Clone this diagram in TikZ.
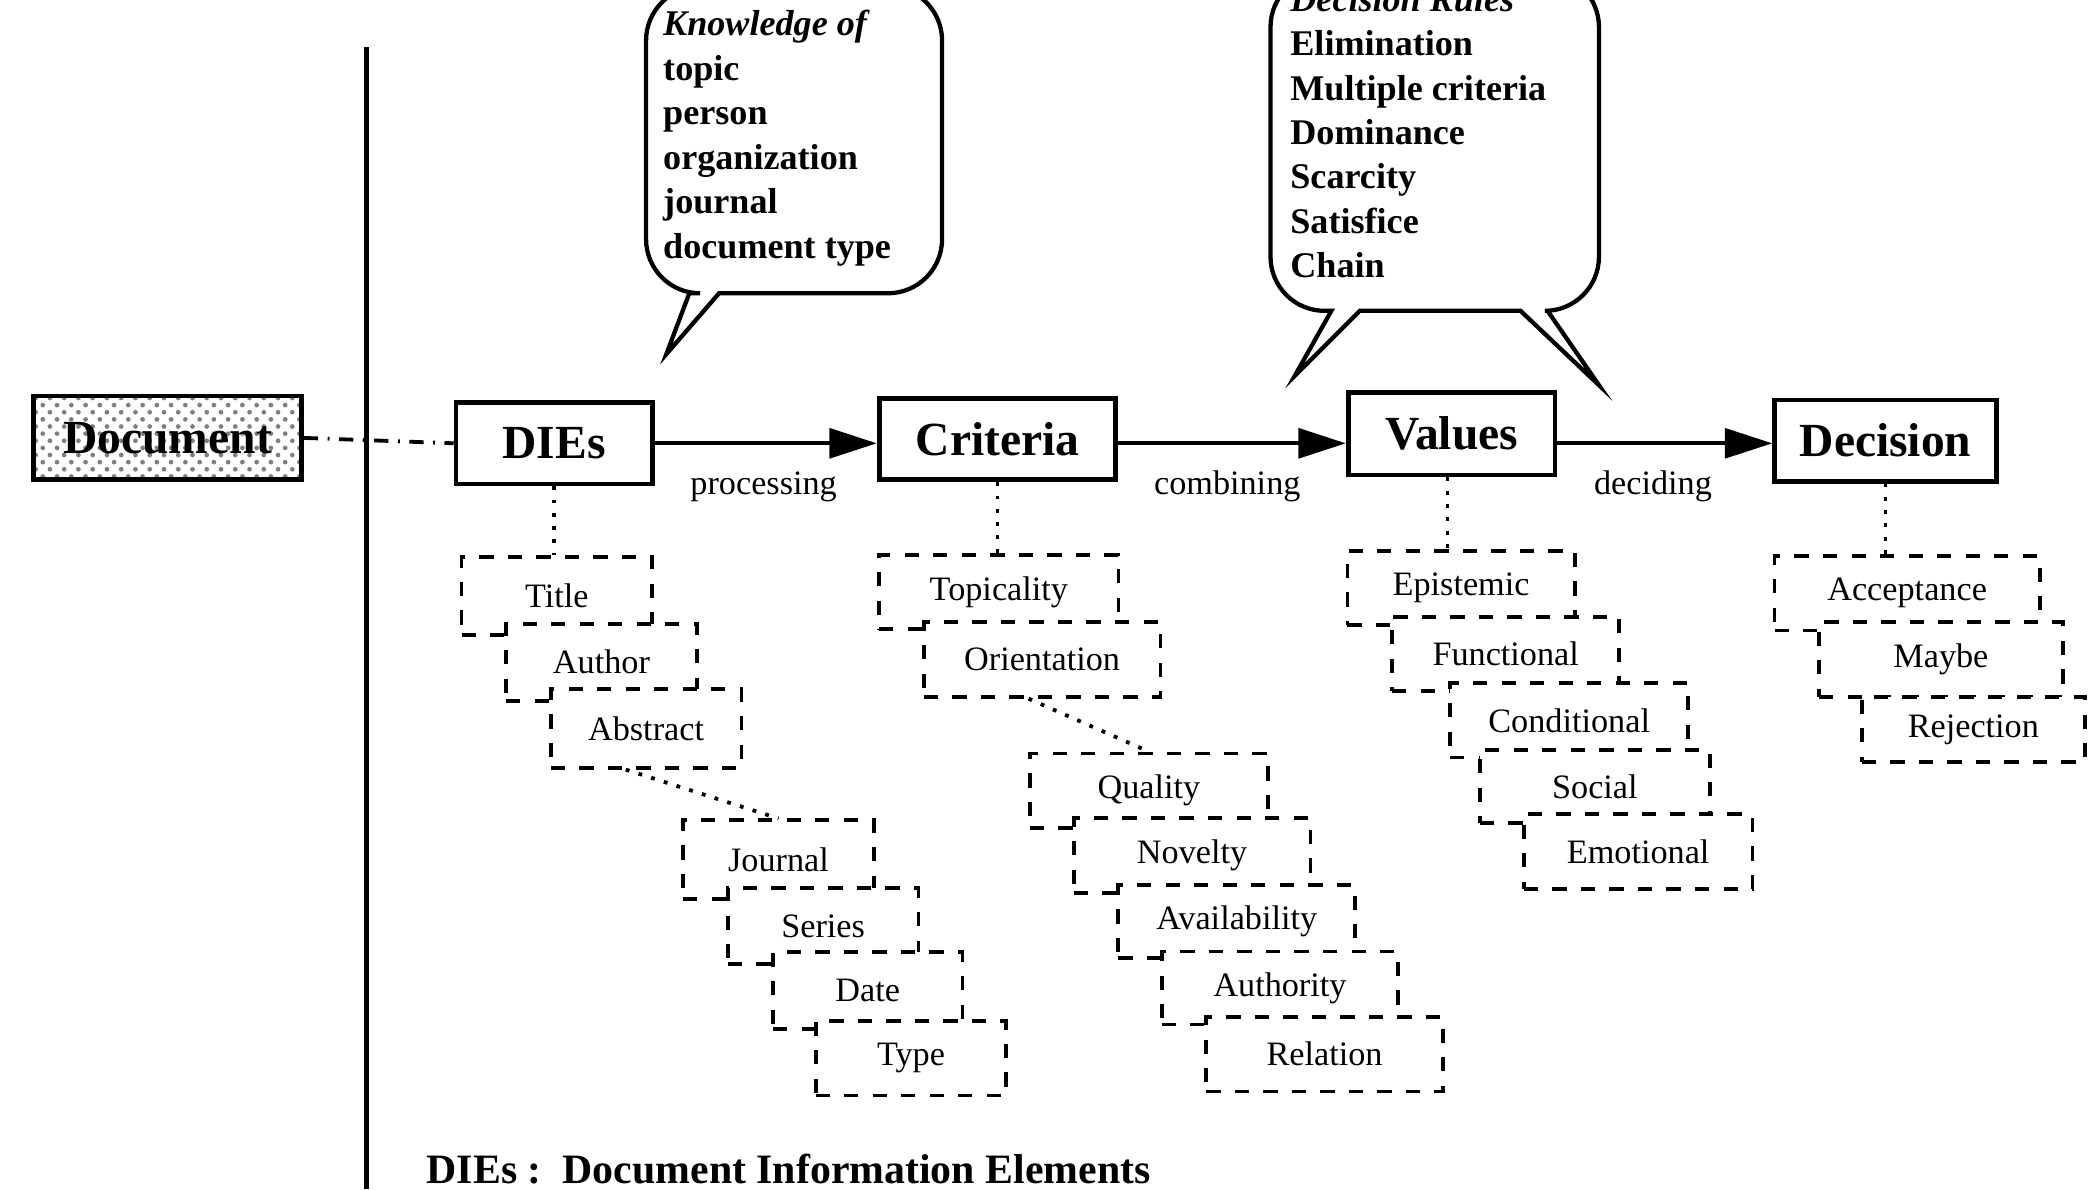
\documentclass[tikz,border=0pt]{standalone}
\usepackage{fontspec}
\setmainfont{Liberation Serif}
\usetikzlibrary{arrows.meta,patterns}

\tikzset{
  mainbox/.style={draw,line width=1pt,inner sep=0pt,font=\fontsize{10}{12}\selectfont\bfseries},
  subbox/.style={draw,dashed,line width=0.8pt,fill=white,inner sep=0pt,font=\fontsize{7.2}{9}\selectfont},
  flow/.style={-{Triangle[length=3.5mm,width=2.2mm]},line width=0.8pt},
  link/.style={dotted,line width=0.8pt},
  lbl/.style={font=\fontsize{7.2}{9}\selectfont},
  bubble/.style={line width=0.9pt}
}

\begin{document}
\begin{tikzpicture}[x=0.01cm,y=-0.01cm]
\useasboundingbox (0,0) rectangle (1550,880);

% separator
\draw[line width=1pt] (271,35) -- (271,880);

% main chain
\node[mainbox,minimum width=1.98cm,minimum height=0.62cm,pattern=crosshatch dots,pattern color=gray] (doc) at (124,324) {};
\node[font=\fontsize{10}{12}\selectfont\bfseries] (doctext) at (124,324) {Document};
\node[mainbox,minimum width=1.45cm,minimum height=0.60cm] (dies) at (410,328) {DIEs};
\node[mainbox,minimum width=1.75cm,minimum height=0.60cm] (crit) at (738,325) {Criteria};
\node[mainbox,minimum width=1.53cm,minimum height=0.61cm] (vals) at (1074,321) {Values};
\node[mainbox,minimum width=1.64cm,minimum height=0.60cm] (deci) at (1395,326) {Decision};

\draw[dash dot,line width=0.8pt] (doc.east) -- (dies.west);
\draw[flow] (dies.east) -- (crit.west |- dies.east);
\draw[flow] (crit.east |- dies.east) -- (vals.west |- dies.east);
\draw[flow] (vals.east |- dies.east) -- (deci.west |- dies.east);
\node[lbl] (lproc) at (565,360) {processing};
\node[lbl] (lcomb) at (908,360) {combining};
\node[lbl] (ldeci) at (1223,360) {deciding};

% DIEs elements
\node[subbox,minimum width=1.41cm,minimum height=0.58cm] (title) at (412,441) {Title};
\node[subbox,minimum width=1.41cm,minimum height=0.57cm] (author) at (445,490) {Author};
\node[subbox,minimum width=1.41cm,minimum height=0.58cm] (abstract) at (478,539) {Abstract};
\node[subbox,minimum width=1.41cm,minimum height=0.58cm] (journal) at (576,636) {Journal};
\node[subbox,minimum width=1.41cm,minimum height=0.56cm] (series) at (609,685) {Series};
\node[subbox,minimum width=1.40cm,minimum height=0.57cm] (date) at (642,733) {Date};
\node[subbox,minimum width=1.41cm,minimum height=0.55cm] (type) at (674,783) {Type};
\draw[link] (dies.south) -- (dies.south |- title.north);
\draw[link] (abstract.south) ++(-15,0) -- (journal.north);

% criteria
\node[subbox,minimum width=1.77cm,minimum height=0.55cm] (topic) at (739,438) {Topicality};
\node[subbox,minimum width=1.75cm,minimum height=0.55cm] (orient) at (771,488) {Orientation};
\node[subbox,minimum width=1.76cm,minimum height=0.55cm] (quality) at (850,585) {Quality};
\node[subbox,minimum width=1.75cm,minimum height=0.55cm] (novelty) at (882,633) {Novelty};
\node[subbox,minimum width=1.75cm,minimum height=0.54cm] (avail) at (915,682) {Availability};
\node[subbox,minimum width=1.75cm,minimum height=0.54cm] (autho) at (947,731) {Authority};
\node[subbox,minimum width=1.75cm,minimum height=0.55cm] (relat) at (980,780) {Relation};
\draw[link] (crit.south) -- (crit.south |- topic.north);
\draw[link] (orient.south) ++(-10,0) -- (quality.north);

% values
\node[subbox,minimum width=1.68cm,minimum height=0.55cm] (epist) at (1081,435) {Epistemic};
\node[subbox,minimum width=1.68cm,minimum height=0.55cm] (funct) at (1114,484) {Functional};
\node[subbox,minimum width=1.76cm,minimum height=0.55cm] (condi) at (1161,533) {Conditional};
\node[subbox,minimum width=1.70cm,minimum height=0.54cm] (social) at (1180,582) {Social};
\node[subbox,minimum width=1.69cm,minimum height=0.55cm] (emoti) at (1212,630) {Emotional};
\draw[link] (vals.south -| 1071,0) -- (1071,407);

% decision
\node[subbox,minimum width=1.96cm,minimum height=0.55cm] (accept) at (1411,439) {Acceptance};
\node[subbox,minimum width=1.80cm,minimum height=0.55cm] (maybe) at (1436,488) {Maybe};
\node[subbox,minimum width=1.65cm,minimum height=0.48cm] (reject) at (1460,540) {Rejection};
\draw[link] (deci.south) -- (deci.south |- accept.north);

% callouts
\draw[bubble] (510,217) -- (493,262) -- (532,217) [rounded corners=0.4cm] -- (697,217) -- (697,-10) -- (478,-10) -- (478,217) [sharp corners] -- cycle;
\node[anchor=north west,align=left,inner sep=0pt,font=\fontsize{7.6}{9.35}\selectfont\bfseries] (know) at (490,7)
  {\textit{Knowledge of}\\topic\\person\\organization\\journal\\document type};

\draw[bubble] (985,230) -- (958,278) -- (1006,230) -- (1125,230) -- (1183,285) -- (1145,230) [rounded corners=0.4cm] -- (1183,230) -- (1183,-20) -- (940,-20) -- (940,230) [sharp corners] -- cycle;
\node[anchor=north west,align=left,inner sep=0pt,font=\fontsize{7.6}{9.35}\selectfont\bfseries] (rules) at (954,-11)
  {\textit{Decision Rules}\\Elimination\\Multiple criteria\\Dominance\\Scarcity\\Satisfice\\Chain};

% legend
\node[anchor=west,inner sep=0pt,font=\fontsize{8.8}{11}\selectfont\bfseries] (legend) at (315,865) {DIEs :\ \ Document Information Elements};
\end{tikzpicture}
\end{document}
